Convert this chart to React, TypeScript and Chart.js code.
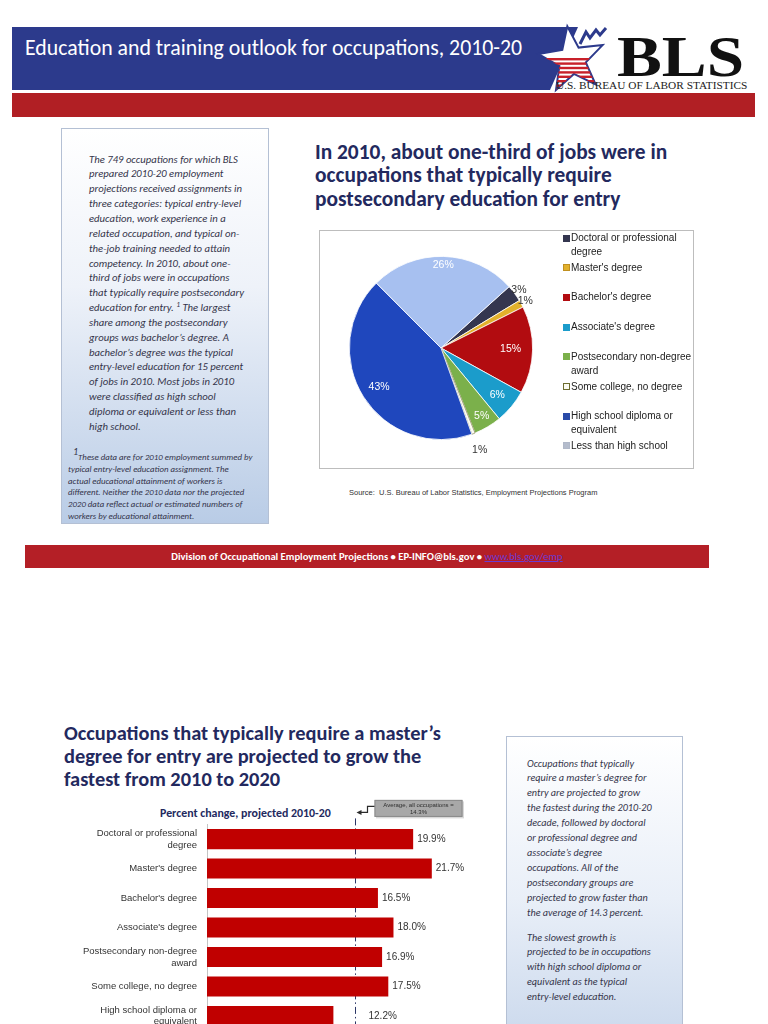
import React, { useEffect, useRef } from "react";
import { Chart, registerables } from "chart.js";

Chart.register(...registerables);

// ---------------- Pie chart data ----------------
const pieCategories: string[][] = [
  ["Doctoral or professional", "degree"],
  ["Master's degree"],
  ["Bachelor's degree"],
  ["Associate's degree"],
  ["Postsecondary non-degree", "award"],
  ["Some college, no degree"],
  ["High school diploma or", "equivalent"],
  ["Less than high school"],
];
const pieValues = [3.0, 1.3, 15.4, 6.0, 4.9, 0.6, 43.0, 25.8];
const pieValueLabels = ["3%", "1%", "15%", "6%", "5%", "1%", "43%", "26%"];

// ---------------- Bar chart data ----------------
const barCategories: (string | string[])[] = [
  ["Doctoral or professional", "degree"],
  "Master's degree",
  "Bachelor's degree",
  "Associate's degree",
  ["Postsecondary non-degree", "award"],
  "Some college, no degree",
  ["High school diploma or", "equivalent"],
  "Less than high school",
];
const barValues = [19.9, 21.7, 16.5, 18.0, 16.9, 17.5, 12.2, 14.3];
const averageGrowth = 14.3;
const barAxisMax = 25;

// ---------------- styles ----------------
const pieColors = ["#34364f", "#e2b12c", "#b20c10", "#1b9ccb", "#7bb04b", "#fbfbf2", "#1f47bd", "#a7c0f0"];
const pieBorders = ["#ffffff", "#ffffff", "#ffffff", "#ffffff", "#ffffff", "#8d8d60", "#ffffff", "#ffffff"];
const legendSwatchBorders = ["#34364f", "#c09020", "#b20c10", "#1b9ccb", "#7bb04b", "#6d6d30", "#2a4ba8", "#b0b8c8"];
const legendSwatchFills = ["#34364f", "#e2b12c", "#b20c10", "#1b9ccb", "#7bb04b", "#fbfbf2", "#2a4ba8", "#b4bccc"];
const pieLabelRadius = [1.06, 1.05, 0.76, 0.8, 0.87, 1.19, 0.8, 0.9];

const CAL = "Carlito, Calibri, Lato, 'Open Sans', sans-serif";
const ARIAL = "'Liberation Sans', Arial, sans-serif";
const NAVY = "#23295e";
const BODY = "#34344a";

const pieLabelPlugin = {
  id: "pieLabels",
  afterDatasetsDraw(chart: any) {
    const meta = chart.getDatasetMeta(0);
    const ctx = chart.ctx;
    ctx.save();
    ctx.font = `10.5px ${ARIAL}`;
    ctx.textAlign = "center";
    ctx.textBaseline = "middle";
    meta.data.forEach((arc: any, i: number) => {
      const p = arc.getProps(["x", "y", "startAngle", "endAngle", "outerRadius"], true);
      const mid = (p.startAngle + p.endAngle) / 2;
      const r = p.outerRadius * pieLabelRadius[i];
      ctx.fillStyle = pieLabelRadius[i] < 1 ? "#ffffff" : "#333333";
      ctx.fillText(pieValueLabels[i], p.x + Math.cos(mid) * r, p.y + Math.sin(mid) * r);
    });
    ctx.restore();
  },
};

const barExtrasPlugin = {
  id: "barExtras",
  beforeDatasetsDraw(chart: any) {
    const { ctx, chartArea, scales } = chart;
    const avgX = Math.round(scales.x.getPixelForValue(averageGrowth)) + 0.5;
    ctx.save();
    ctx.strokeStyle = "#2b3566";
    ctx.lineWidth = 1;
    ctx.setLineDash([7, 3, 1.5, 3]);
    ctx.beginPath();
    ctx.moveTo(avgX, chartArea.top - 6);
    ctx.lineTo(avgX, chartArea.bottom);
    ctx.stroke();
    ctx.restore();
  },
  afterDatasetsDraw(chart: any) {
    const { ctx, chartArea, scales } = chart;
    const avgX = Math.round(scales.x.getPixelForValue(averageGrowth)) + 0.5;
    const meta = chart.getDatasetMeta(0);
    ctx.save();
    ctx.font = `10px ${ARIAL}`;
    ctx.fillStyle = "#333333";
    ctx.textBaseline = "middle";
    ctx.textAlign = "left";
    meta.data.forEach((bar: any, i: number) => {
      const end = bar.x;
      const x = end < avgX ? avgX + 13 : end + 4;
      ctx.fillText(`${barValues[i].toFixed(1)}%`, x, bar.y);
    });
    // annotation box
    const bx = avgX + 19;
    const by = chartArea.top - 24.5;
    const bw = 88;
    const bh = 17;
    ctx.fillStyle = "rgba(0,0,0,0.15)";
    ctx.fillRect(bx + 1.5, by + 1.5, bw, bh);
    ctx.fillStyle = "#a8a8a8";
    ctx.fillRect(bx, by, bw, bh);
    ctx.strokeStyle = "#8a8a8a";
    ctx.lineWidth = 1;
    ctx.strokeRect(bx + 0.5, by + 0.5, bw - 1, bh - 1);
    ctx.fillStyle = "#2e2e2e";
    ctx.textAlign = "center";
    ctx.font = `6px ${ARIAL}`;
    ctx.fillText("Average, all occupations =", bx + bw / 2, by + 5.5);
    ctx.fillText(`${averageGrowth.toFixed(1)}%`, bx + bw / 2, by + 12);
    // elbow connector
    ctx.strokeStyle = "#2b2b2b";
    ctx.lineWidth = 1.2;
    ctx.beginPath();
    ctx.moveTo(bx, by + 6.5);
    ctx.lineTo(bx - 7, by + 6.5);
    ctx.lineTo(bx - 7, by + 12.5);
    ctx.lineTo(avgX + 5, by + 12.5);
    ctx.stroke();
    ctx.fillStyle = "#2b2b2b";
    ctx.beginPath();
    ctx.moveTo(avgX + 1, by + 12.5);
    ctx.lineTo(avgX + 6, by + 10);
    ctx.lineTo(avgX + 6, by + 15);
    ctx.closePath();
    ctx.fill();
    ctx.restore();
  },
};

function PieChart() {
  const ref = useRef<HTMLCanvasElement>(null);
  useEffect(() => {
    if (!ref.current) return;
    const chart = new Chart(ref.current, {
      type: "pie",
      data: {
        labels: pieCategories,
        datasets: [
          {
            data: pieValues,
            backgroundColor: pieColors,
            borderColor: pieBorders,
            borderWidth: 0.8,
          },
        ],
      },
      options: {
        responsive: false,
        animation: false,
        rotation: 48,
        layout: { padding: { left: 29, right: 103, top: 26, bottom: 28 } },
        plugins: { legend: { display: false }, tooltip: { enabled: false } },
      },
      plugins: [pieLabelPlugin],
    } as any);
    return () => chart.destroy();
  }, []);
  return (
    <canvas
      ref={ref}
      width={316}
      height={238}
      style={{ position: "absolute", left: 320, top: 230, width: 316, height: 238 }}
    />
  );
}

function BarChart() {
  const ref = useRef<HTMLCanvasElement>(null);
  useEffect(() => {
    if (!ref.current) return;
    const chart = new Chart(ref.current, {
      type: "bar",
      data: {
        labels: barCategories,
        datasets: [
          {
            data: barValues,
            backgroundColor: "#c00000",
            borderWidth: 0,
            barPercentage: 0.68,
            categoryPercentage: 1,
          },
        ],
      },
      options: {
        indexAxis: "y",
        responsive: false,
        animation: false,
        layout: { autoPadding: false, padding: { top: 29.4, right: 14, bottom: 7, left: 0 } },
        plugins: { legend: { display: false }, tooltip: { enabled: false } },
        scales: {
          x: { display: false, min: 0, max: barAxisMax },
          y: {
            grid: { display: false },
            border: { display: true, color: "#c4c4c4" },
            ticks: {
              color: "#333333",
              padding: 2,
              font: { family: ARIAL, size: 9.5, lineHeight: 1.25 },
            },
            afterFit: (s: any) => {
              s.width = 167;
            },
          },
        },
      },
      plugins: [barExtrasPlugin],
    } as any);
    return () => chart.destroy();
  }, []);
  return (
    <canvas
      ref={ref}
      width={440}
      height={279}
      style={{ position: "absolute", left: 40, top: 795, width: 440, height: 279 }}
    />
  );
}

type LinesProps = {
  lines: React.ReactNode[];
  x: number;
  y: number; // center of first line
  lh: number;
  style: React.CSSProperties;
};
function Lines({ lines, x, y, lh, style }: LinesProps) {
  return (
    <>
      {lines.map((l, i) => (
        <div
          key={i}
          style={{
            position: "absolute",
            left: x,
            top: y - lh / 2 + i * lh,
            height: lh,
            lineHeight: `${lh}px`,
            whiteSpace: "nowrap",
            ...style,
          }}
        >
          {l}
        </div>
      ))}
    </>
  );
}

function Star() {
  const cx = 572;
  const cy = 60;
  const R = 34;
  const r = 14;
  const pts: string[] = [];
  for (let k = 0; k < 10; k++) {
    const a = (-90 + k * 36 - 8) * (Math.PI / 180);
    const rad = k % 2 === 0 ? R : r;
    pts.push(`${(cx + Math.cos(a) * rad).toFixed(1)},${(cy + Math.sin(a) * rad).toFixed(1)}`);
  }
  const stripes = [];
  for (let y = 58; y < 96; y += 4.4) {
    stripes.push(<rect key={y} x={520} y={y} width={110} height={2.4} fill="#c8202a" />);
  }
  return (
    <svg
      style={{ position: "absolute", left: 520, top: 20, width: 110, height: 76 }}
      viewBox="520 20 110 76"
    >
      <defs>
        <clipPath id="starClip">
          <polygon points={pts.join(" ")} />
        </clipPath>
      </defs>
      <polygon points={pts.join(" ")} fill="#ffffff" stroke="#2c3a8c" strokeWidth={2} />
      <g clipPath="url(#starClip)">{stripes}</g>
      <polyline
        points="580,44 586,32 590,38 596,30 600,35 606,28"
        fill="none"
        stroke="#2c3a8c"
        strokeWidth={3}
      />
    </svg>
  );
}

const leftPara: React.ReactNode[] = [
  "The 749 occupations for which BLS",
  "prepared 2010-20 employment",
  "projections received assignments in",
  "three categories: typical entry-level",
  "education, work experience in a",
  "related occupation, and typical on-",
  "the-job training needed to attain",
  "competency. In 2010, about one-",
  "third of jobs were in occupations",
  "that typically require postsecondary",
  <>
    education for entry. <sup style={{ fontSize: "70%", verticalAlign: "4px", lineHeight: 0 }}>1</sup> The largest
  </>,
  "share among the postsecondary",
  "groups was bachelor’s degree. A",
  "bachelor’s degree was the typical",
  "entry-level education for 15 percent",
  "of jobs in 2010. Most jobs in 2010",
  "were classified as high school",
  "diploma or equivalent or less than",
  "high school.",
];

const footnote: React.ReactNode[] = [
  <>
    <sup style={{ fontSize: "10px", verticalAlign: "5px", lineHeight: 0, marginLeft: 5 }}>1</sup>These data are for 2010 employment summed by
  </>,
  "typical entry-level education assignment. The",
  "actual educational attainment of workers is",
  "different. Neither the 2010 data nor the projected",
  "2020 data reflect actual or estimated numbers of",
  "workers by educational attainment.",
];

const rightPara1 = [
  "Occupations that typically",
  "require a master’s degree for",
  "entry are projected to grow",
  "the fastest during the 2010-20",
  "decade, followed by doctoral",
  "or professional degree and",
  "associate’s degree",
  "occupations. All of the",
  "postsecondary groups are",
  "projected to grow faster than",
  "the average of 14.3 percent.",
];
const rightPara2 = [
  "The slowest growth is",
  "projected to be in occupations",
  "with high school diploma or",
  "equivalent as the typical",
  "entry-level education.",
];

export default function App() {
  const boxGradient = "linear-gradient(to bottom, #ffffff 0%, #eef2f9 40%, #b9cce6 100%)";
  return (
    <div
      style={{
        position: "absolute",
        left: 0,
        top: 0,
        width: 768,
        height: 1024,
        overflow: "hidden",
        background: "#ffffff",
      }}
    >
      {/* Header */}
      <div
        style={{
          position: "absolute",
          left: 12,
          top: 27,
          width: 566,
          height: 63,
          background: "#2c3a8c",
          clipPath: "polygon(0 0, 566px 0, 538px 63px, 0 63px)",
        }}
      />
      <div style={{ position: "absolute", left: 12, top: 93, width: 743, height: 24, background: "#b11f24" }} />
      <div
        style={{
          position: "absolute",
          left: 25,
          top: 33,
          lineHeight: "30px",
          fontFamily: CAL,
          fontSize: 21.8,
          color: "#ffffff",
          whiteSpace: "nowrap",
        }}
      >
        Education and training outlook for occupations, 2010-20
      </div>
      <Star />
      <div
        style={{
          position: "absolute",
          left: 617,
          top: 27,
          lineHeight: "60px",
          fontFamily: "'Liberation Serif', 'Times New Roman', serif",
          fontWeight: "bold",
          fontSize: 56,
          color: "#111111",
          whiteSpace: "nowrap",
          transform: "scaleX(1.2)",
          transformOrigin: "left center",
        }}
      >
        BLS
      </div>
      <div
        style={{
          position: "absolute",
          left: 556,
          top: 80,
          lineHeight: "12px",
          fontFamily: "'Liberation Serif', 'Times New Roman', serif",
          fontSize: 9.5,
          color: "#222222",
          whiteSpace: "nowrap",
          transform: "scaleX(1.19)",
          transformOrigin: "left center",
        }}
      >
        U.S. BUREAU OF LABOR STATISTICS
      </div>

      {/* Left text box */}
      <div
        style={{
          position: "absolute",
          left: 61,
          top: 128,
          width: 206,
          height: 394,
          background: boxGradient,
          border: "1px solid #b4c0d4",
        }}
      />
      <Lines
        lines={leftPara}
        x={89}
        y={160}
        lh={14.85}
        style={{ fontFamily: CAL, fontStyle: "italic", fontSize: 10.7, color: BODY }}
      />
      <Lines
        lines={footnote}
        x={68}
        y={458}
        lh={11.75}
        style={{ fontFamily: CAL, fontStyle: "italic", fontSize: 8.8, color: BODY }}
      />

      {/* Pie title */}
      <Lines
        lines={[
          "In 2010, about one-third of jobs were in",
          "occupations that typically require",
          "postsecondary education for entry",
        ]}
        x={315}
        y={152.5}
        lh={23.5}
        style={{ fontFamily: CAL, fontWeight: "bold", fontSize: 21.4, color: NAVY }}
      />

      {/* Pie frame */}
      <div
        style={{
          position: "absolute",
          left: 319,
          top: 230,
          width: 373,
          height: 237,
          border: "1px solid #bdbdbd",
        }}
      />
      <PieChart />
      {/* Pie legend */}
      {pieCategories.map((lines, i) => (
        <div
          key={i}
          style={{
            position: "absolute",
            left: 562,
            top: 231 + i * 29.7,
            fontFamily: ARIAL,
            fontSize: 10,
            color: "#222222",
            lineHeight: "14px",
            whiteSpace: "nowrap",
          }}
        >
          <span
            style={{
              position: "absolute",
              left: 1,
              top: 3.5,
              width: 5,
              height: 5,
              background: legendSwatchFills[i],
              border: `1px solid ${legendSwatchBorders[i]}`,
            }}
          />
          {lines.map((t, j) => (
            <div key={j} style={{ paddingLeft: 9 }}>
              {t}
            </div>
          ))}
        </div>
      ))}
      <div
        style={{
          position: "absolute",
          left: 349,
          top: 487,
          lineHeight: "12px",
          fontFamily: ARIAL,
          fontSize: 7.5,
          color: "#333333",
          whiteSpace: "pre",
        }}
      >
        {"Source:  U.S. Bureau of Labor Statistics, Employment Projections Program"}
      </div>

      {/* Footer band */}
      <div
        style={{
          position: "absolute",
          left: 25,
          top: 545,
          width: 684,
          height: 23,
          background: "#b41f26",
          color: "#ffffff",
          fontFamily: CAL,
          fontWeight: "bold",
          fontSize: 10.6,
          lineHeight: "23px",
          textAlign: "center",
          whiteSpace: "nowrap",
        }}
      >
        Division of Occupational Employment Projections • EP-INFO@bls.gov •{" "}
        <span style={{ color: "#6a3ad0", textDecoration: "underline", fontWeight: "normal" }}>www.bls.gov/emp</span>
      </div>

      {/* Second section title */}
      <Lines
        lines={[
          "Occupations that typically require a master’s",
          "degree for entry are projected to grow the",
          "fastest from 2010 to 2020",
        ]}
        x={64}
        y={733}
        lh={23}
        style={{ fontFamily: CAL, fontWeight: "bold", fontSize: 20.4, color: NAVY }}
      />
      <div
        style={{
          position: "absolute",
          left: 160,
          top: 805,
          lineHeight: "16px",
          fontFamily: CAL,
          fontWeight: "bold",
          fontSize: 11.9,
          color: NAVY,
          whiteSpace: "nowrap",
        }}
      >
        Percent change, projected 2010-20
      </div>
      <BarChart />

      {/* Right text box */}
      <div
        style={{
          position: "absolute",
          left: 506,
          top: 736,
          width: 175,
          height: 360,
          background: "linear-gradient(to bottom, #ffffff 0%, #e9eff8 45%, #bfd0e8 100%)",
          border: "1px solid #b4c0d4",
        }}
      />
      <Lines
        lines={rightPara1}
        x={527}
        y={764}
        lh={14.9}
        style={{ fontFamily: CAL, fontStyle: "italic", fontSize: 10.2, color: BODY }}
      />
      <Lines
        lines={rightPara2}
        x={527}
        y={938}
        lh={14.8}
        style={{ fontFamily: CAL, fontStyle: "italic", fontSize: 10.2, color: BODY }}
      />
    </div>
  );
}
